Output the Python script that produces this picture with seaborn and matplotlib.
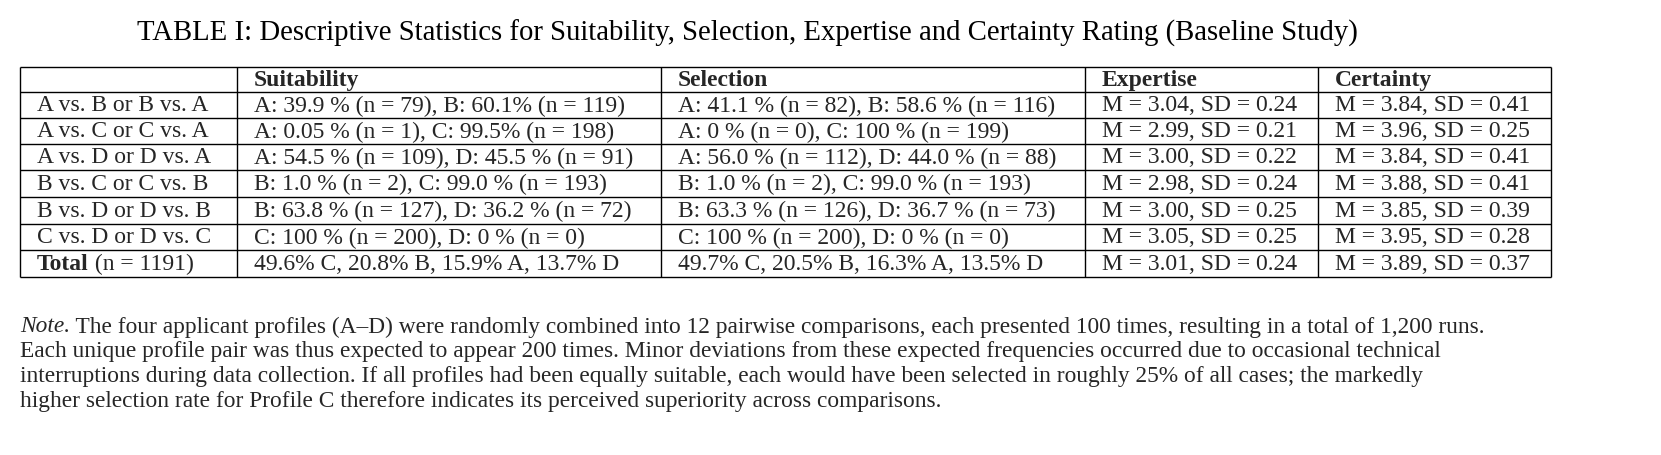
import matplotlib
matplotlib.use("Agg")
import matplotlib.pyplot as plt
import seaborn as sns

sns.set_theme(style="white")
plt.rcParams['font.family'] = ['Liberation Serif', 'DejaVu Serif']

title = "TABLE I: Descriptive Statistics for Suitability, Selection, Expertise and Certainty Rating (Baseline Study)"
headers = ["", "Suitability", "Selection", "Expertise", "Certainty"]
pairs = ["A vs. B or B vs. A", "A vs. C or C vs. A", "A vs. D or D vs. A", "B vs. C or C vs. B",
         "B vs. D or D vs. B", "C vs. D or D vs. C"]
suitability = ["A: 39.9 % (n = 79), B: 60.1% (n = 119)", "A: 0.05 % (n = 1), C: 99.5% (n = 198)",
               "A: 54.5 % (n = 109), D: 45.5 % (n = 91)", "B: 1.0 % (n = 2), C: 99.0 % (n = 193)",
               "B: 63.8 % (n = 127), D: 36.2 % (n = 72)", "C: 100 % (n = 200), D: 0 % (n = 0)",
               "49.6% C, 20.8% B, 15.9% A, 13.7% D"]
selection = ["A: 41.1 % (n = 82), B: 58.6 % (n = 116)", "A: 0 % (n = 0), C: 100 % (n = 199)",
             "A: 56.0 % (n = 112), D: 44.0 % (n = 88)", "B: 1.0 % (n = 2), C: 99.0 % (n = 193)",
             "B: 63.3 % (n = 126), D: 36.7 % (n = 73)", "C: 100 % (n = 200), D: 0 % (n = 0)",
             "49.7% C, 20.5% B, 16.3% A, 13.5% D"]
expertise = ["M = 3.04, SD = 0.24", "M = 2.99, SD = 0.21", "M = 3.00, SD = 0.22", "M = 2.98, SD = 0.24",
             "M = 3.00, SD = 0.25", "M = 3.05, SD = 0.25", "M = 3.01, SD = 0.24"]
certainty = ["M = 3.84, SD = 0.41", "M = 3.96, SD = 0.25", "M = 3.84, SD = 0.41", "M = 3.88, SD = 0.41",
             "M = 3.85, SD = 0.39", "M = 3.95, SD = 0.28", "M = 3.89, SD = 0.37"]
total_label = ("Total", " (n = 1191)")
note_lines = [
    " The four applicant profiles (A\u2013D) were randomly combined into 12 pairwise comparisons, each presented 100 times, resulting in a total of 1,200 runs.",
    "Each unique profile pair was thus expected to appear 200 times. Minor deviations from these expected frequencies occurred due to occasional technical",
    "interruptions during data collection. If all profiles had been equally suitable, each would have been selected in roughly 25% of all cases; the markedly",
    "higher selection rate for Profile C therefore indicates its perceived superiority across comparisons.",
]

W, H = 1661, 456
fig = plt.figure(figsize=(W/100, H/100), dpi=100)
ax = fig.add_axes([0, 0, 1, 1])
ax.set_xlim(0, W); ax.set_ylim(H, 0); ax.axis('off')
fs = 17
nfs = 16.8

ax.text(747, 33, title, ha='center', va='center', fontsize=20.7, color='black')

cols = [20, 237, 661, 1085, 1318, 1551]
rows = [68, 93, 119, 145, 171, 198, 225, 251, 278]
ax.hlines(rows, cols[0], cols[-1], color='black', lw=1)
ax.vlines(cols, rows[0], rows[-1], color='black', lw=1)

def cy(i):
    return (rows[i] + rows[i+1]) / 2

for j, h in enumerate(headers):
    ax.text(cols[j] + 17, cy(0), h, fontsize=fs, fontweight='bold', va='center')

labels = pairs + [None]
for i in range(7):
    y = cy(i + 1)
    if labels[i] is not None:
        ax.text(cols[0] + 17, y, labels[i], fontsize=fs, va='center')
    else:
        t = ax.text(cols[0] + 17, y, total_label[0], fontsize=fs, fontweight='bold', va='center')
        ax.annotate(total_label[1], xy=(1, 0.5), xycoords=t, va='center', fontsize=fs)
    for j, vals in enumerate([suitability, selection, expertise, certainty]):
        ax.text(cols[j + 1] + 17, y, vals[i], fontsize=fs, va='center')

ny = [327, 352, 377, 402]
nt = ax.text(20, ny[0], "Note.", fontsize=nfs, style='italic', va='center')
ax.annotate(note_lines[0], xy=(1, 0.5), xycoords=nt, va='center', fontsize=nfs)
for k in range(1, 4):
    ax.text(20, ny[k], note_lines[k], fontsize=nfs, va='center')

fig.savefig("out.png", dpi=100)
